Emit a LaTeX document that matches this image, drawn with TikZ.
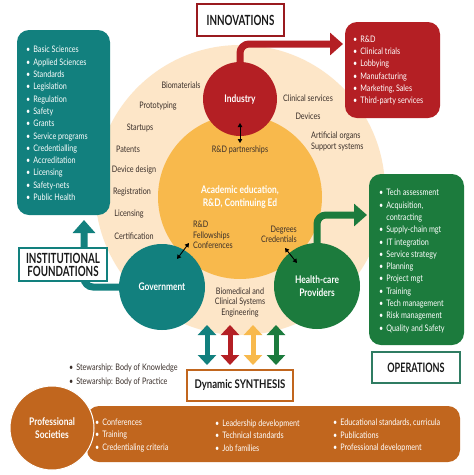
\documentclass[tikz,border=0pt]{standalone}
\usepackage{fontspec}
\setmainfont[FakeStretch=0.8]{Lato}
\newfontfamily\capfont[FakeStretch=0.7]{Lato}
\usetikzlibrary{arrows.meta}
\definecolor{teal1}{HTML}{12807E}
\definecolor{red1}{HTML}{B41F24}
\definecolor{orange1}{HTML}{F8B94C}
\definecolor{peach}{HTML}{FDE6C8}
\definecolor{green1}{HTML}{1C7B3D}
\definecolor{brown1}{HTML}{C1661E}
\definecolor{txt}{HTML}{3A2F2A}
\definecolor{opsb}{HTML}{2F7C62}
\newcommand{\mybul}{\textbullet\hspace{3pt}}
\newcommand{\mybulsp}{\hphantom{\textbullet\hspace{3pt}}}
\begin{document}
\begin{tikzpicture}[x=1pt,y=-1pt,
  lbl/.style={font=\fontsize{9}{10.5}\selectfont, text=txt, inner sep=0},
  lst/.style={font=\fontsize{9}{12.3}\selectfont, text=white, align=left, inner sep=0, anchor=west},
  blst/.style={font=\fontsize{9}{12.5}\selectfont, text=white, align=left, inner sep=0, anchor=west},
  wlbl/.style={font=\fontsize{10.5}{12.5}\selectfont\bfseries, text=white, align=center},
  capbox/.style={draw, line width=1.2, fill=white, inner sep=0, font=\capfont\bfseries\fontsize{14}{14}\selectfont, align=center, text=black!90},
  rbox/.style={rounded corners=12, inner sep=0},
  bigarrow/.style={line width=7, rounded corners=9, -{Triangle[length=13,width=22]}},
  dblarr/.style={line width=5, {Triangle[length=10,width=18]}-{Triangle[length=10,width=18]}},
  smalldbl/.style={line width=0.9, black, {Triangle[length=4,width=4.5]}-{Triangle[length=4,width=4.5]}},
]
\useasboundingbox (0,0) rectangle (474,475);
\fill[white] (0,0) rectangle (474,475);

% big ring
\node[circle, fill=peach, minimum size=290, inner sep=0] (ring) at (240,190) {};
\node[circle, fill=orange1, minimum size=164, inner sep=0, wlbl] (acad) at (240,197) {Academic education,\\R\&D, Continuing Ed};

% boxes
\node[rbox, fill=teal1, minimum width=93, minimum height=185] (tealbox) at (63.5,122.5) {};
\node[rbox, fill=red1, minimum width=95, minimum height=96] (redbox) at (392.5,70) {};
\node[rbox, fill=green1, minimum width=95, minimum height=171] (greenbox) at (416.5,259.5) {};
\node[rbox, fill=brown1, minimum width=373, minimum height=56] (bar) at (273.5,434) {};

% coordinates for arrow ends
\coordinate (redin) at (343,44);
\coordinate (opin) at (367,215);
\coordinate (instup) at (84,220);

% big arrows
\draw[bigarrow, red1] (240,70) |- (redin);
\draw[bigarrow, green1] (317,250) |- (opin);
\draw[bigarrow, teal1] (125,287) -| (instup);

% circles
\node[circle, fill=red1, minimum size=74, inner sep=0, wlbl] (ind) at (240,99) {Industry};
\node[circle, fill=teal1, minimum size=86, inner sep=0, wlbl] (gov) at (162,287) {Government};
\node[circle, fill=green1, minimum size=86, inner sep=0, wlbl] (hc) at (317,286) {Health-care\\Providers};
\node[circle, fill=brown1, draw=white, line width=1, minimum size=84, inner sep=0, wlbl] (prof) at (52,428) {Professional\\Societies};

% label boxes
\node[capbox, draw=red1!85!black, minimum width=87, minimum height=32] (innov) at (240.5,20) {INNOVATIONS};
\node[capbox, draw=teal1, minimum width=88, minimum height=33, font=\capfont\bfseries\fontsize{14}{13}\selectfont] (inst) at (63,264.5) {INSTITUTIONAL\\FOUNDATIONS};
\node[capbox, draw=opsb, minimum width=88, minimum height=31, font=\capfont\bfseries\fontsize{13}{13}\selectfont] (ops) at (416,367.5) {OPERATIONS};
\node[capbox, draw=brown1, minimum width=106, minimum height=31, font=\bfseries\fontsize{12}{12}\selectfont] (dyn) at (240,385.5) {Dynamic SYNTHESIS};

% synthesis arrows
\coordinate (s1t) at (207,325); \coordinate (s1b) at (207,365);
\coordinate (s2t) at (230,325); \coordinate (s2b) at (230,365);
\coordinate (s3t) at (253,325); \coordinate (s3b) at (253,365);
\coordinate (s4t) at (276,325); \coordinate (s4b) at (276,365);
\draw[dblarr, teal1] (s1t) -- (s1b);
\draw[dblarr, red1] (s2t) -- (s2b);
\draw[dblarr, orange1] (s3t) -- (s3b);
\draw[dblarr, green1] (s4t) -- (s4b);

% small black arrows
\coordinate (ia1) at (240,123); \coordinate (ia2) at (240,143);
\coordinate (ga1) at (177,259); \coordinate (ga2) at (189,243);
\coordinate (ha1) at (285,248); \coordinate (ha2) at (297,263);
\draw[smalldbl] (ia1) -- (ia2);
\draw[smalldbl] (ga1) -- (ga2);
\draw[smalldbl] (ha1) -- (ha2);

% ring labels
\node[lbl] (l1) at (181,85) {Biomaterials};
\node[lbl] (l2) at (158,106) {Prototyping};
\node[lbl] (l3) at (140,128) {Startups};
\node[lbl] (l4) at (128,149) {Patents};
\node[lbl] (l5) at (134,170) {Device design};
\node[lbl] (l6) at (132,192) {Registration};
\node[lbl] (l7) at (129,214) {Licensing};
\node[lbl] (l8) at (134,236) {Certification};
\node[lbl] (l9) at (308,98) {Clinical services};
\node[lbl] (l10) at (308,116) {Devices};
\node[lbl, anchor=west, align=left] (l11) at (311,141.5) {Artificial organs\\Support systems};
\node[lbl] (l12) at (240,150) {R\&D partnerships};
\node[lbl, anchor=west, align=left] (l13) at (193,235) {R\&D\\Fellowships\\Conferences};
\node[lbl, anchor=east, align=right] (l14) at (297,234.5) {Degrees\\Credentials};
\node[lbl, align=center] (l15) at (240,302.5) {Biomedical and\\Clinical Systems\\Engineering};

% lists
\node[lst] (tl) at (26,123.5) {\mybul Basic Sciences\\ \mybul Applied Sciences\\ \mybul Standards\\ \mybul Legislation\\ \mybul Regulation\\ \mybul Safety\\ \mybul Grants\\ \mybul Service programs\\ \mybul Credentialling\\ \mybul Accreditation\\ \mybul Licensing\\ \mybul Safety-nets\\ \mybul Public Health};
\node[lst] (rl) at (353,70.5) {\mybul R\&D\\ \mybul Clinical trials\\ \mybul Lobbying\\ \mybul Manufacturing\\ \mybul Marketing, Sales\\ \mybul Third-party services};
\node[lst] (gl) at (379,261) {\mybul Tech assessment\\ \mybul Acquisition,\\ \mybulsp contracting\\ \mybul Supply-chain mgt\\ \mybul IT integration\\ \mybul Service strategy\\ \mybul Planning\\ \mybul Project mgt\\ \mybul Training\\ \mybul Tech management\\ \mybul Risk management\\ \mybul Quality and Safety};
\node[blst] (b1) at (95,435.5) {\mybul Conferences\\ \mybul Training\\ \mybul Credentialing criteria};
\node[blst] (b2) at (215,435.5) {\mybul Leadership development\\ \mybul Technical standards\\ \mybul Job families};
\node[blst] (b3) at (333,435.5) {\mybul Educational standards, curricula\\ \mybul Publications\\ \mybul Professional development};
\node[lst, text=txt, font=\fontsize{9}{13.5}\selectfont] (stw) at (69,375) {\mybul Stewarship: Body of Knowledge\\ \mybul Stewarship: Body of Practice};
\end{tikzpicture}
\end{document}
